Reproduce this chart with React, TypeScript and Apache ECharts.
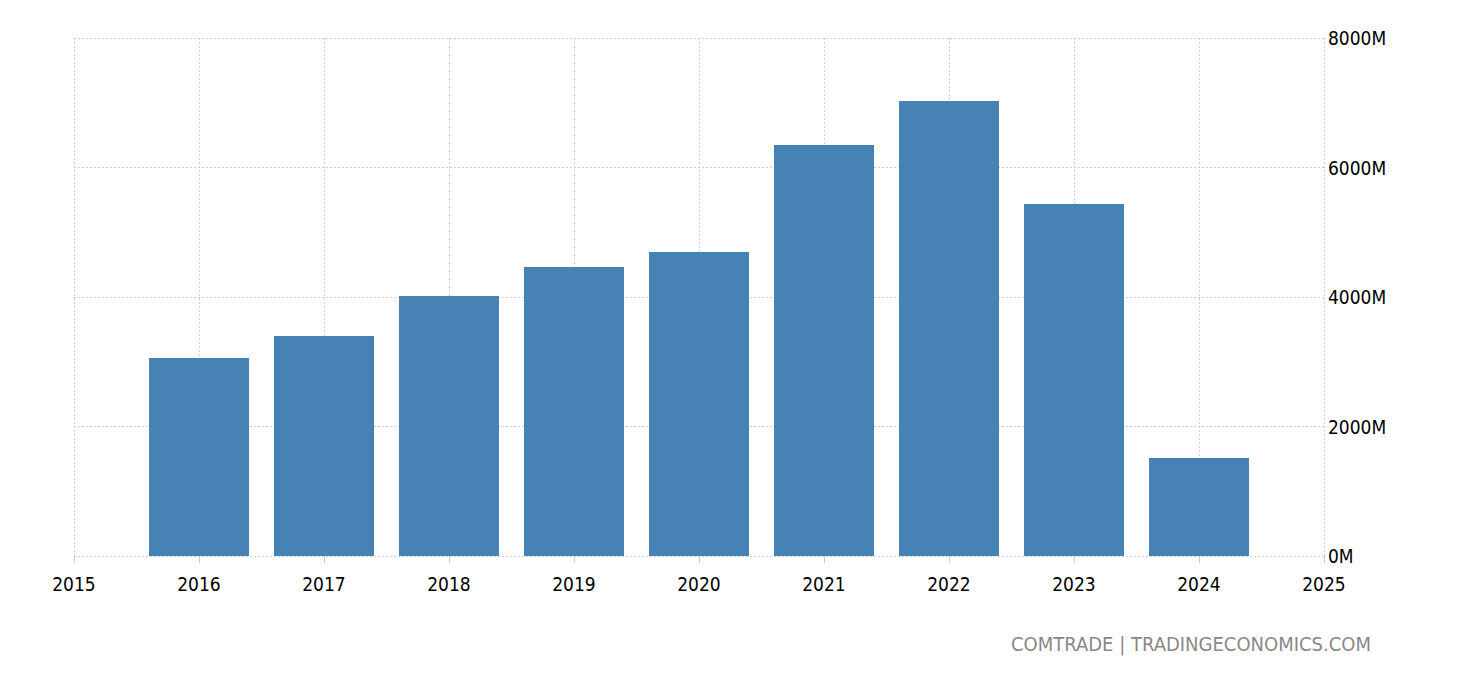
import React, { useEffect, useRef } from "react";
import * as echarts from "echarts";

const years = [2016, 2017, 2018, 2019, 2020, 2021, 2022, 2023, 2024];
const values = [3058, 3398, 4015, 4463, 4695, 6347, 7027, 5436, 1514];
const yTicks = [0, 2000, 4000, 6000, 8000];
const sourceText = "COMTRADE | TRADINGECONOMICS.COM";

export default function App() {
  const ref = useRef<HTMLDivElement>(null);
  useEffect(() => {
    if (!ref.current) return;
    const chart = echarts.init(ref.current, null, { renderer: "svg" });
    const font = "'DejaVu Sans Condensed', 'DejaVu Sans', sans-serif";
    chart.setOption({
      animation: false,
      grid: { left: 66, right: 128, top: 30, bottom: 116, containLabel: false },
      xAxis: {
        type: "value",
        min: 2015,
        max: 2025,
        interval: 1,
        axisLine: { show: false },
        axisTick: { show: true, length: 7, lineStyle: { color: "#cccccc" } },
        axisLabel: { color: "#000", fontSize: 19, fontFamily: font, margin: 18, formatter: (v: number) => String(v) },
        splitLine: { show: true, lineStyle: { color: "#d0d0d0", type: [2, 2] } },
      },
      yAxis: {
        type: "value",
        position: "right",
        min: 0,
        max: 8000,
        interval: 2000,
        axisLine: { show: false },
        axisTick: { show: false },
        axisLabel: { color: "#000", fontSize: 19, fontFamily: font, margin: 4, formatter: (v: number) => (yTicks.includes(v) ? v + "M" : "") },
        splitLine: { show: true, lineStyle: { color: "#d0d0d0", type: [2, 2] } },
      },
      series: [
        {
          type: "bar",
          data: years.map((y, i) => [y, values[i]]),
          barWidth: 100,
          itemStyle: { color: "#4682b4" },
        },
      ],
      graphic: [
        {
          type: "text",
          right: 81,
          top: 626,
          style: { text: sourceText, fill: "#888888", fontSize: 20, fontFamily: font },
        },
      ],
    });
    return () => chart.dispose();
  }, []);
  return <div ref={ref} style={{ width: 1444, height: 664 }} />;
}
